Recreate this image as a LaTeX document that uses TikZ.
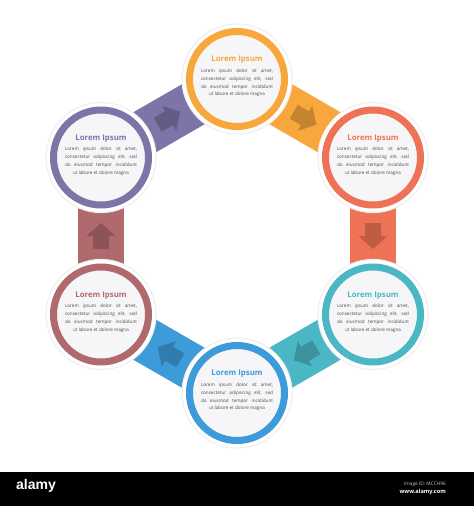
\documentclass[tikz,border=0pt]{standalone}
\usepackage{fontspec}
\setmainfont{Open Sans}
\newfontfamily\logofont{Liberation Sans}
\usetikzlibrary{calc}
\definecolor{cOrange}{HTML}{F7A73C}
\definecolor{cRed}{HTML}{EE7356}
\definecolor{cTeal}{HTML}{4BB7C5}
\definecolor{cBlue}{HTML}{3C9BD8}
\definecolor{cRose}{HTML}{B06A6E}
\definecolor{cPurple}{HTML}{7C75A8}
\definecolor{cInner}{HTML}{F6F6F8}
\definecolor{cText}{HTML}{4A4A4A}
\pgfdeclarelayer{bg}
\pgfsetlayers{bg,main}
\tikzset{
  halo/.style={circle, fill=white, draw=black!6, line width=1.2pt, minimum size=110pt, inner sep=0pt},
  ring/.style={circle, fill=cInner, draw=#1, line width=7pt, minimum size=95pt, inner sep=0pt},
  band/.style={line width=46pt, line cap=butt, draw=#1},
  ttl/.style={font=\bfseries\fontsize{7.8}{9}\selectfont, text=#1, inner sep=0pt},
  bodytxt/.style={font=\fontsize{4.6}{7.8}\selectfont, text=cText, align=center, inner sep=0pt},
  flowarrow/.pic={\fill[black,opacity=0.2] (-13,-8) -- (0,-8) -- (0,-14.5) -- (13,0) -- (0,14.5) -- (0,8) -- (-13,8) -- cycle;}
}
\newcommand{\lorembody}{\makebox[72pt][s]{Lorem ipsum dolor sit amet,}\\\makebox[72pt][s]{consectetur adipiscing elit, sed}\\\makebox[72pt][s]{do eiusmod tempor incididunt}\\ut labore et dolore magna}
\begin{document}
\begin{tikzpicture}[x=1pt,y=-1pt]
\useasboundingbox (0,0) rectangle (474,506);
\begin{pgfonlayer}{bg}
\fill[white] (0,0) rectangle (474,506);
\end{pgfonlayer}
% circles
\node[halo] (t)  at (237,79) {};
\node[halo] (tr) at (373,157.5) {};
\node[halo] (br) at (373,314.5) {};
\node[halo] (b)  at (237,393) {};
\node[halo] (bl) at (101,314.5) {};
\node[halo] (tl) at (101,157.5) {};
\node[ring=cOrange] (t-ring)  at (t.center) {};
\node[ring=cRed]    (tr-ring) at (tr.center) {};
\node[ring=cTeal]   (br-ring) at (br.center) {};
\node[ring=cBlue]   (b-ring)  at (b.center) {};
\node[ring=cRose]   (bl-ring) at (bl.center) {};
\node[ring=cPurple] (tl-ring) at (tl.center) {};
% texts
\foreach \n/\c in {t/cOrange, tr/cRed, br/cTeal, b/cBlue, bl/cRose, tl/cPurple}{
  \node[ttl=\c] (\n-title) at ($(\n.center)+(0,-19)$) {Lorem Ipsum};
  \node[bodytxt] (\n-body) at ($(\n.center)+(0,4)$) {\lorembody};
}
% connectors
\begin{pgfonlayer}{bg}
\draw[band=cPurple] (tl.center) -- (t.center);
\draw[band=cOrange] (t.center) -- (tr.center);
\draw[band=cRed]    (tr.center) -- (br.center);
\draw[band=cTeal]   (br.center) -- (b.center);
\draw[band=cBlue]   (b.center) -- (bl.center);
\draw[band=cRose]   (bl.center) -- (tl.center);
\pic[rotate=30]  at ($(tl.center)!0.5!(t.center)$) {flowarrow};
\pic[rotate=-30] at ($(t.center)!0.5!(tr.center)$) {flowarrow};
\pic[rotate=-90] at ($(tr.center)!0.5!(br.center)$) {flowarrow};
\pic[rotate=210] at ($(br.center)!0.5!(b.center)$) {flowarrow};
\pic[rotate=150] at ($(b.center)!0.5!(bl.center)$) {flowarrow};
\pic[rotate=90]  at ($(bl.center)!0.5!(tl.center)$) {flowarrow};
\end{pgfonlayer}
% banner
\fill[black] (0,472) rectangle (474,506);
\node[anchor=west, text=white, inner sep=0pt, font=\logofont\bfseries\fontsize{14}{14}\selectfont] (logo) at (16,486) {alamy};
\node[anchor=east, text=white!80!black, inner sep=0pt, font=\fontsize{4.8}{6}\selectfont] (imgid) at (446,484.5) {Image ID: MCCH96};
\node[anchor=east, text=white, inner sep=0pt, font=\bfseries\fontsize{5.6}{6}\selectfont] (url) at (446,492.5) {www.alamy.com};
\end{tikzpicture}
\end{document}
